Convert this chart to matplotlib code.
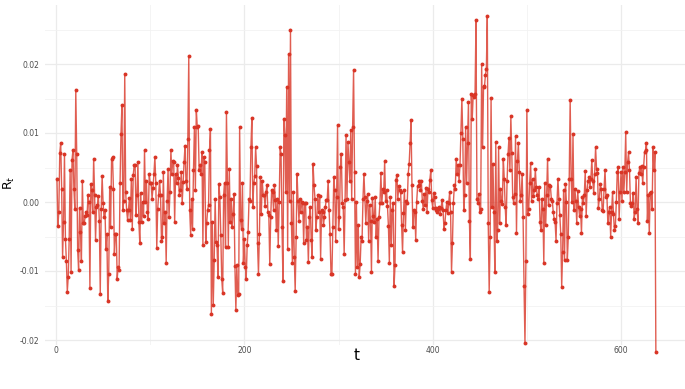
import numpy as np
import matplotlib
matplotlib.use("Agg")
import matplotlib.pyplot as plt
from matplotlib.ticker import MultipleLocator, FuncFormatter

# returns R_t in thousandths, t = 1, 2, ...
r_milli = [
    # t ~ 1-55
    3.4, -3.5, -1.4, 7.1, 8.6, 1.9, -8.0, -2.9, 7.0, -5.3, -8.5, -13.0, -10.8, -5.3,
    4.6, -10.1, 6.1, 7.5, 1.9, -1.0, 16.3, 7.0, -7.0, -9.8, -0.8, -4.3, -8.5, 3.0,
    -3.1, -3.1, -2.0, -1.4, -1.9, 1.0, 0.0, -12.4, 2.6, 1.7, -1.4, 6.3, 1.0, -5.5,
    -0.7, -0.5, 0.8, -2.7, -13.3, -1.0, 3.7, -0.1, -2.2, -1.1, -6.8, -4.6, -14.3,
    # t ~ 56-110
    -10.4, 2.2, -3.6, 6.3, 6.5, 1.9, -7.5, -4.6, -4.6, -11.1, -9.4, -9.9, 2.7, 9.9,
    14.0, -1.2, 0.2, 18.6, 1.4, -1.2, -2.6, -1.1, 0.6, -2.6, 3.4, -3.9, 3.9, 5.3,
    5.3, -1.9, 1.0, 5.8, -2.9, -6.0, 1.3, -2.9, 0.0, -2.1, 7.5, 0.0, 3.1, -1.4,
    -2.4, 4.1, 2.7, 2.8, 0.5, 2.0, 4.1, 6.5, 2.8, -6.7, -1.0, 1.0, 3.1,
    # t ~ 111-166
    1.0, -5.6, -5.1, 4.3, -3.1, -1.4, -8.8, 0.2, 4.8, -2.2, 1.4, 7.5, 4.1, 6.0,
    5.8, -2.9, 4.1, 2.7, 5.3, 3.5, 1.0, 1.7, 4.3, -0.2, 2.9, 5.8, 8.1, 3.0, 1.9,
    9.2, 21.1, -1.2, -4.8, 0.5, -3.9, 4.7, 10.9, 1.7, 13.4, 10.9, 11.0, 4.6, 5.3,
    4.1, 7.2, -6.3, 6.5, 5.8, -5.8, -3.1, -1.1, -0.5, 7.5, 10.6, -16.2, -2.9,
    # t ~ 167-223
    -14.9, -8.4, 0.5, -5.8, -6.3, -10.9, 2.6, 0.7, -4.8, -11.1, -13.2, 1.0, 2.7,
    -6.5, 13.0, 2.7, -6.5, 4.8, -2.9, 0.5, -3.6, -1.7, 1.2, -9.3, -15.7, -9.2,
    -13.5, -13.4, 10.8, -2.6, -3.9, 2.8, -8.8, -5.3, -9.4, -11.1, -6.3, -4.3, 0.5,
    0.2, 8.0, 12.2, -0.7, 2.7, 3.7, 7.9, 5.2, -6.0, -10.4, -4.7, 3.6, -1.8, 3.1,
    1.0, 1.0, -0.6, 1.5,
    # t ~ 224-280
    2.4, -1.4, -1.9, -9.0, -2.2, 1.7, 1.4, -1.1, 2.4, 0.3, -4.1, 0.5, -6.4, 0.0,
    7.9, 7.0, -3.6, -11.4, 12.1, 9.7, 1.4, 16.7, -6.8, 21.4, 0.2, 25.0, -3.1, -8.8,
    1.4, -7.9, -12.9, -5.1, 4.1, 0.1, -2.7, 0.4, -1.4, 0.0, -0.2, -6.0, -0.2, -0.1,
    -5.5, -3.6, -8.7, -2.2, -0.7, -5.5, -8.0, 5.5, 2.4, 0.5, -4.1, -2.2, 1.0,
    -1.5, 0.8,
    # t ~ 281-337
    -8.2, -1.2, -1.4, -3.4, -2.2, -0.7, 0.3, 0.3, 3.1, -1.2, -4.7, -10.4, -10.5,
    -3.6, 3.6, 1.7, -5.6, 0.7, 11.2, -3.9, -2.2, 5.1, 6.9, -0.2, -0.7, -7.5, 0.3,
    9.7, 0.5, 8.7, 5.8, 3.1, 10.4, 0.5, 10.9, 19.2, 4.3, -10.4, 0.0, -9.4, -3.4,
    -10.9, -9.0, -5.1, -5.6, 0.5, 4.1, 0.7, -3.0, 0.2, 1.2, -5.6, -0.5, -2.8,
    -10.1, 0.6, -2.0,
    # t ~ 338-393
    -2.9, 0.7, -5.1, -2.4, -8.5, -2.2, -0.2, 4.2, -0.2, 1.9, 1.4, 5.9, 0.2, 1.7,
    -0.6, -3.5, -8.8, 0.7, -6.3, -1.2, -0.1, -12.2, -9.2, 3.2, 3.9, 0.5, 2.3, 1.7,
    1.4, -3.3, -7.3, -1.6, 1.7, -4.1, 0.2, -0.1, 4.1, 5.5, 8.5, 11.9, 2.4, -3.6,
    -1.1, -1.4, -5.5, 0.0, 2.3, 2.4, 3.0, 1.7, 3.0, 0.2, -1.0, 1.2, -0.4, 2.1,
    # t ~ 394-450
    -1.4, 1.9, 1.4, 3.2, 4.6, 0.3, -0.8, 1.3, 0.7, -1.2, -0.8, -1.4, -1.0, -0.7,
    -1.8, -0.8, 0.3, -1.2, -3.9, -3.1, -1.2, 0.0, -1.6, -0.2, 1.4, -1.4, -10.1,
    -5.9, -0.1, 2.4, 1.9, 6.3, 4.1, 5.3, 3.1, 5.3, 10.0, 15.0, 9.2, -1.2, 1.0, 10.9,
    2.7, 8.6, 14.5, -2.7, -8.2, 15.7, 12.0, 15.5, 15.2, 15.7, 26.4, 0.5, -0.2,
    1.2, -1.5,
    # t ~ 451-507
    -1.0, 20.0, 7.9, 16.8, 16.7, 18.4, 19.3, 26.9, -3.1, -13.0, -5.1, 15.1, -0.7,
    5.5, -1.4, -10.1, 8.7, -5.6, -4.1, 7.9, -3.1, 1.9, 0.2, -0.3, 6.3, 3.4, -0.7,
    -3.4, 3.1, 6.9, 9.3, 4.6, 12.4, 7.1, 0.7, -0.1, 1.2, 9.5, -4.5, 6.0, 8.5, 4.3,
    0.1, 1.0, 4.1, -2.2, -12.2, -20.5, -8.5, 13.4, -1.7, -1.0, 2.8, 5.6, 0.2,
    3.3, 0.9,
    # t ~ 508-564
    1.7, 4.8, 2.2, 1.0, 0.5, 2.2, -2.9, -4.1, 0.5, -1.0, -8.8, 2.7, -3.4, 1.0, 6.3,
    -0.5, 2.4, 2.3, 0.5, 0.2, -1.4, -2.4, -2.9, -5.6, -0.2, 3.4, 0.5, -1.9, -4.6,
    -12.3, -7.2, 1.7, -8.4, 2.6, 0.0, -8.4, -5.1, 3.4, 14.8, 3.4, 0.0, 9.8, -1.2,
    1.9, 0.2, -3.1, 1.6, -0.7, -2.1, -1.0, -4.5, 0.7, -0.2, 1.0, 4.5, -2.0, 1.8,
    # t ~ 565-616
    3.0, 3.6, 2.2, 3.4, 6.1, 3.1, 1.3, 4.1, 7.9, 4.8, 4.2, -0.8, 0.5, 2.6, 1.9,
    -1.1, -1.3, 1.9, 4.7, 0.7, 1.0, -3.1, -1.4, -0.7, -5.0, -1.4, 1.4, -1.8, -4.1,
    -3.5, 0.0, 4.3, 5.1, -2.4, 1.4, 4.3, 0.2, 5.1, 1.4, 4.3, 10.1, 1.4, 5.8, 7.2,
    4.6, -0.2, -0.6, -0.2, 1.3, -2.4, -1.4, 3.6,
    # t ~ 617-637
    -1.0, -3.0, 4.2, 5.1, 4.1, 5.2, 2.7, 5.1, 7.2, 7.5, 8.6, -2.8, 1.0, -4.5, 1.3,
    1.4, -1.0, 7.9, 4.6, 7.2, -21.8,
]

r_t = np.array(r_milli) / 1000.0
t = np.arange(1, len(r_t) + 1)

x_ticks = [0, 200, 400, 600]
y_ticks = [-0.02, -0.01, 0.00, 0.01, 0.02]

W, H = 685, 389
fig = plt.figure(figsize=(W / 100, H / 100), dpi=100)
# panel spans px 45..685 horizontally, 5..345 vertically
ax = fig.add_axes([45 / W, 1 - 345 / H, 640 / W, 340 / H])

red = "#d93526"
ax.plot(t, r_t, color=red, lw=1.0, alpha=0.8, zorder=3, clip_on=False)
ax.plot(t, r_t, "o", color=red, ms=2.8, mew=0, zorder=4, clip_on=False)

ax.set_xlim((45 - 56) / 0.9417, (685 - 56) / 0.9417)
ax.set_ylim((202 - 345) / 6900, (202 - 5) / 6900)

ax.set_xticks(x_ticks)
ax.set_yticks(y_ticks)
ax.xaxis.set_minor_locator(MultipleLocator(100))
ax.yaxis.set_minor_locator(MultipleLocator(0.005))
ax.yaxis.set_major_formatter(FuncFormatter(lambda v, p: f"{v:.2f}".replace("-0.00", "0.00")))

ax.grid(which="major", color="#ebebeb", lw=0.9)
ax.grid(which="minor", color="#f2f2f2", lw=0.6)
ax.set_axisbelow(True)
for s in ax.spines.values():
    s.set_visible(False)
ax.tick_params(which="both", length=0)
ax.tick_params(axis="both", labelsize=5.5, labelcolor="#4d4d4d")
ax.tick_params(axis="x", pad=1)
ax.tick_params(axis="y", pad=4)

ax.set_xlabel("t", fontsize=11, va="center")
ax.xaxis.set_label_coords((357 - 45) / 640, -(356 - 345) / 340)
ax.set_ylabel("R$_t$", fontsize=9, va="center")
ax.yaxis.set_label_coords((9 - 45) / 640, (345 - 183) / 340)

fig.savefig("out.png", dpi=100)
